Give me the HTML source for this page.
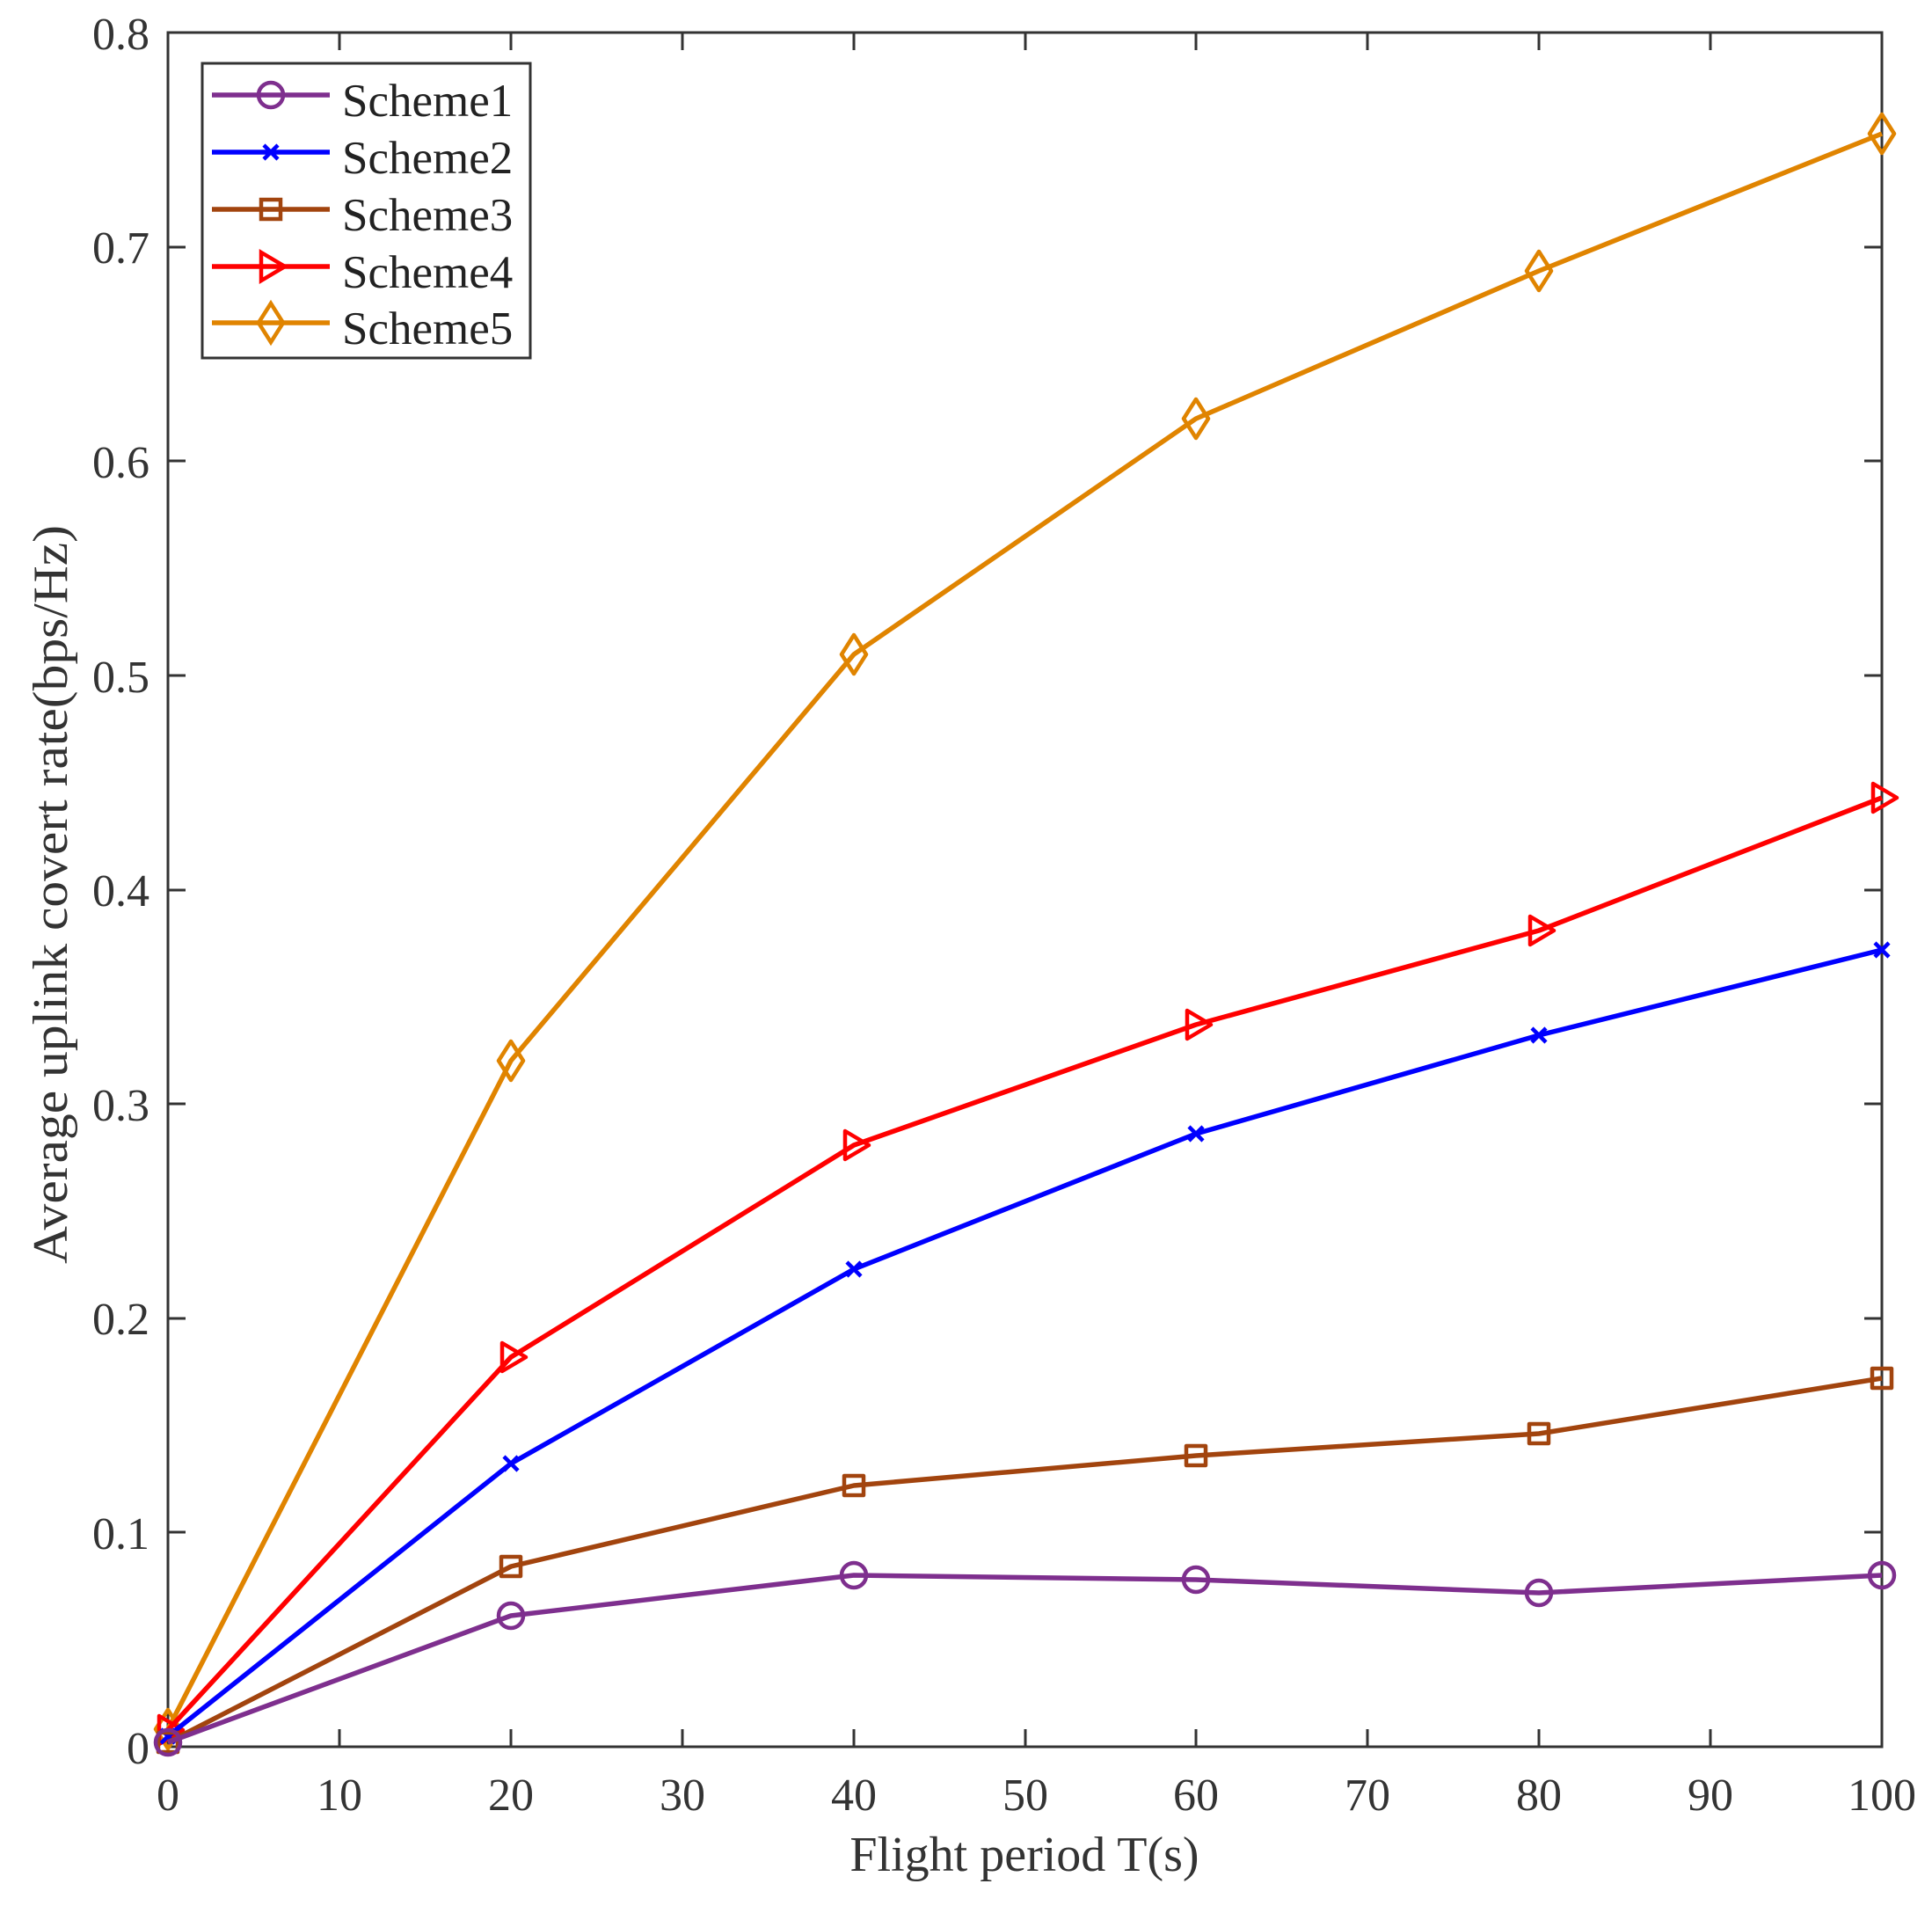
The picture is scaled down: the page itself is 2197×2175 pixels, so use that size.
<!DOCTYPE html>
<html><head><meta charset="utf-8"><style>html,body{margin:0;padding:0;background:#fff}svg{display:block}</style></head>
<body>
<svg width="2197" height="2175" viewBox="0 0 2197 2175" xmlns="http://www.w3.org/2000/svg" font-family="Liberation Serif, serif">
<rect width="2197" height="2175" fill="#fff"/>
<g stroke="#333" stroke-width="3" fill="none">
<rect x="191" y="37" width="1949" height="1949"/>
</g>
<g stroke="#333" stroke-width="3">
<path d="M386 1986v-20M581 1986v-20M776 1986v-20M971 1986v-20M1166 1986v-20M1360 1986v-20M1555 1986v-20M1750 1986v-20M1945 1986v-20
M386 37v20M581 37v20M776 37v20M971 37v20M1166 37v20M1360 37v20M1555 37v20M1750 37v20M1945 37v20
M191 1742h20M191 1499h20M191 1255h20M191 1012h20M191 768h20M191 524h20M191 281h20
M2140 1742h-20M2140 1499h-20M2140 1255h-20M2140 1012h-20M2140 768h-20M2140 524h-20M2140 281h-20"/>
</g>
<g font-size="52" fill="#333" text-anchor="end">
<text x="170" y="56">0.8</text>
<text x="170" y="299">0.7</text>
<text x="170" y="543">0.6</text>
<text x="170" y="787">0.5</text>
<text x="170" y="1030">0.4</text>
<text x="170" y="1274">0.3</text>
<text x="170" y="1517">0.2</text>
<text x="170" y="1761">0.1</text>
<text x="170" y="2005">0</text>
</g>
<g font-size="52" fill="#333" text-anchor="middle">
<text x="191" y="2058">0</text>
<text x="386" y="2058">10</text>
<text x="581" y="2058">20</text>
<text x="776" y="2058">30</text>
<text x="971" y="2058">40</text>
<text x="1166" y="2058">50</text>
<text x="1360" y="2058">60</text>
<text x="1555" y="2058">70</text>
<text x="1750" y="2058">80</text>
<text x="1945" y="2058">90</text>
<text x="2140" y="2058">100</text>
</g>
<text x="1165" y="2127" font-size="56" fill="#333" text-anchor="middle">Flight period T(s)</text>
<text transform="translate(76,1017) rotate(-90)" font-size="56" fill="#333" text-anchor="middle" textLength="840" lengthAdjust="spacingAndGlyphs">Average uplink covert rate(bps/Hz)</text>

<g fill="none" stroke-width="5.5" stroke-linejoin="round">
<polyline stroke="#E08400" points="191,1966 581,1206 971,744 1360,476 1750,308 2140,152"/>
<g stroke="#E08400" stroke-width="4.5">
<path d="M191,1944l14,22l-14,22l-14,-22z M581,1184l14,22l-14,22l-14,-22z M971,722l14,22l-14,22l-14,-22z M1360,454l14,22l-14,22l-14,-22z M1750,286l14,22l-14,22l-14,-22z M2140,130l14,22l-14,22l-14,-22z"/>
</g>
<polyline stroke="#FF0000" points="191,1967 581,1543 971,1302 1360,1165 1750,1058 2140,907"/>
<g stroke="#FF0000" stroke-width="4.5">
<path d="M181,1951l27,16l-27,16z M571,1527l27,16l-27,16z M961,1286l27,16l-27,16z M1350,1149l27,16l-27,16z M1740,1042l27,16l-27,16z M2130,891l27,16l-27,16z"/>
</g>
<polyline stroke="#0000FF" points="191,1974 581,1664 971,1443 1360,1289 1750,1177 2140,1080"/>
<g stroke="#0000FF" stroke-width="4.5">
<path d="M183,1966l16,16M199,1966l-16,16 M573,1656l16,16M589,1656l-16,16 M963,1435l16,16M979,1435l-16,16 M1352,1281l16,16M1368,1281l-16,16 M1742,1169l16,16M1758,1169l-16,16 M2132,1072l16,16M2148,1072l-16,16"/>
</g>
<polyline stroke="#A2440E" points="191,1981 581,1781 971,1689 1360,1655 1750,1630 2140,1567"/>
<g stroke="#A2440E" stroke-width="4.5">
<rect x="180" y="1970" width="22" height="22"/><rect x="570" y="1770" width="22" height="22"/><rect x="960" y="1678" width="22" height="22"/><rect x="1349" y="1644" width="22" height="22"/><rect x="1739" y="1619" width="22" height="22"/><rect x="2129" y="1556" width="22" height="22"/>
</g>
<polyline stroke="#7E2F8E" points="191,1981 581,1837 971,1791 1360,1796 1750,1811 2140,1791"/>
<g stroke="#7E2F8E" stroke-width="4.5">
<circle cx="191" cy="1981" r="14"/><circle cx="581" cy="1837" r="14"/><circle cx="971" cy="1791" r="14"/><circle cx="1360" cy="1796" r="14"/><circle cx="1750" cy="1811" r="14"/><circle cx="2140" cy="1791" r="14"/>
</g>
</g>

<rect x="230" y="72" width="373" height="335" fill="#fff" stroke="#333" stroke-width="3"/>
<g fill="none" stroke-width="5.5">
<path d="M241,108h134" stroke="#7E2F8E"/><circle cx="308" cy="108" r="14" stroke="#7E2F8E" stroke-width="4.5"/>
<path d="M241,173h134" stroke="#0000FF"/><path d="M300,165l16,16M316,165l-16,16" stroke="#0000FF" stroke-width="4.5"/>
<path d="M241,238h134" stroke="#A2440E"/><rect x="297" y="227" width="22" height="22" stroke="#A2440E" stroke-width="4.5"/>
<path d="M241,303h134" stroke="#FF0000"/><path d="M297,287l27,16l-27,16z" stroke="#FF0000" stroke-width="4.5"/>
<path d="M241,367h134" stroke="#E08400"/><path d="M308,345l14,22l-14,22l-14,-22z" stroke="#E08400" stroke-width="4.5"/>
</g>
<g font-size="53" fill="#222">
<text x="389" y="132">Scheme1</text>
<text x="389" y="197">Scheme2</text>
<text x="389" y="262">Scheme3</text>
<text x="389" y="327">Scheme4</text>
<text x="389" y="391">Scheme5</text>
</g>
</svg>
</body></html>
